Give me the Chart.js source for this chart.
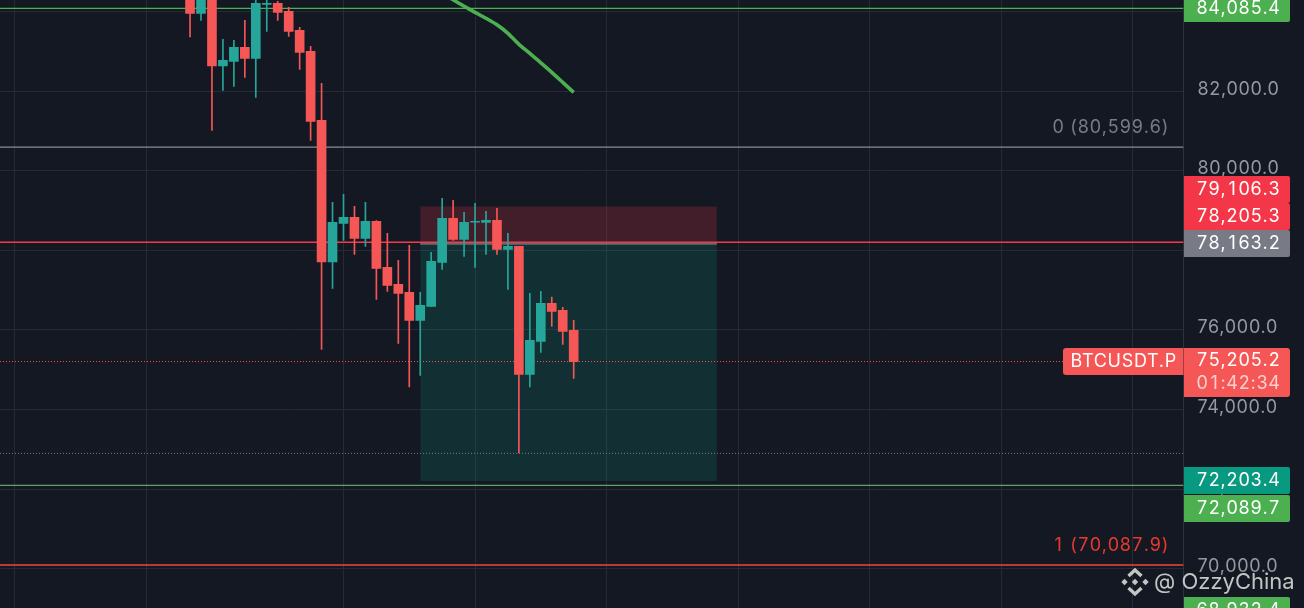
<!DOCTYPE html>
<html><head><meta charset="utf-8">
<style>html,body{margin:0;padding:0;background:#141823;overflow:hidden}canvas{display:block}</style>
<script src="https://cdn.jsdelivr.net/npm/chart.js@4"></script>
</head><body><canvas id="c" width="1304" height="608" style="width:1304px;height:608px"></canvas>
<script>
// candle values, bar index 0..35
const candleOpen  = [84600,83964,84700,82638,82756,83109,82832,84190,84215,84014,83536,83008,81273,77709,78682,78833,78305,78732,77576,77148,76947,76243,76595,77701,78808,78280,78710,78707,78758,78028,78104,74884,75714,76670,76494,75991];
const candleClose = [83964,84600,82638,82782,83109,82832,84215,84215,83989,83511,82983,81247,77709,78707,78833,78305,78732,77550,77123,76922,76243,76620,77726,78808,78280,78707,78735,78758,78028,78104,74884,75740,76670,76469,75966,75205.2];
const candleHigh  = [84800,84800,84900,83310,83285,83788,84341,84366,84265,84115,83612,83134,82203,79210,79411,79110,79210,78750,78431,77752,78129,76947,77953,79311,79261,78959,79185,78984,79059,78431,78104,76922,76972,76829,76570,76243];
const candleLow   = [83368,83788,81021,82027,82128,82354,81851,83511,83788,83385,82555,80770,75513,77047,78255,77902,78104,76771,76972,75664,74565,74859,76595,77525,78255,77852,77576,77902,77902,77022,72905,74565,75438,76092,75639,74784];
// moving average, bars 24..35
const maBars   = [23,24,25,26,27,28,29,30,31,32,33,34,35];
const maValues = [84467,84303,84140,83989,83838,83674,83460,83184,82958,82719,82480,82228,81977];
// price levels
const levelTop = 84085.4, levelFibZero = 80599.6, levelEntry = 78205.3, levelAvg = 78163.2;
const levelLast = 75205.2, levelLow = 72897, levelTarget = 72203.4, levelGreen = 72089.7, levelFibOne = 70087.9, levelStop = 79106.3;
const priceTicks = [70000,72000,74000,76000,78000,80000,82000,84000];
const gridBars = [-16,-4,14,26,38,50,62,74,86];
const boxBars = [21,48.06];
const tagTexts = ['84,085.4','79,106.3','78,205.3','78,163.2','72,203.4','72,089.7','68,932.4'];
const tagLastTexts = ['75,205.2','01:42:34','BTCUSDT.P'];
const fibTexts = ['0 (80,599.6)','1 (70,087.9)'];
const watermarkText = '@ OzzyChina';

const RED='#F55656', TEAL='#26A69A', FONT='Inter, "Liberation Sans", sans-serif';
const xMin=-17.336, xMax=90.63, yMin=69007.5, yMax=84298.5;
const idx=candleOpen.map((_,i)=>i);
const colors=idx.map(i=>candleClose[i]>=candleOpen[i]?TEAL:RED);
const hline=(v,color,order,extra)=>Object.assign({type:'line',data:[{x:xMin,y:v},{x:xMax,y:v}],borderColor:color,borderWidth:1.2,pointRadius:0,fill:false,order},extra||{});
const box=(top,bottom,color)=>({type:'line',data:boxBars.map(x=>({x,y:top})),borderWidth:0,borderColor:'transparent',pointRadius:0,fill:{value:bottom},backgroundColor:color,order:20});

const overlay={id:'overlay',
 beforeDraw(ch){const c=ch.ctx;c.save();c.fillStyle='#141823';c.fillRect(0,0,ch.width,ch.height);c.restore();c.letterSpacing='0.7px';},
 afterDraw(ch){const c=ch.ctx;c.save();
  const rr=(x,y,w,h,col,r)=>{c.fillStyle=col;c.beginPath();c.roundRect(x,y,w,h,r);c.fill();};
  // right-aligned text with equal-width digits
  const cells=(s,xr,y)=>{c.textAlign='left';const cell=c.measureText('0').width;
    const ws=[...s].map(ch=>/\d/.test(ch)?cell:c.measureText(ch).width);
    let x=xr-ws.reduce((a,b)=>a+b,0);
    [...s].forEach((ch,i)=>{const w=c.measureText(ch).width;c.fillText(ch,x+(ws[i]-w)/2,y);x+=ws[i];});};
  c.textBaseline='middle';c.font='18px '+FONT;
  // fib labels
  c.fillStyle='#787B86';cells(fibTexts[0],1169,127.5);
  c.fillStyle='#E8392F';cells(fibTexts[1],1169,545.5);
  // price tags
  const tx=1280.5;
  const tags=[[-5,tagTexts[0],'#4CAF50'],[176,tagTexts[1],'#F43748'],[203,tagTexts[2],'#F43748'],[230,tagTexts[3],'#787B86'],[467,tagTexts[4],'#089981'],[495,tagTexts[5],'#4CAF50'],[597,tagTexts[6],'#4CAF50']];
  tags.forEach(([t,s,col])=>{rr(1184,t,106,27,col,[0,2,2,0]);c.fillStyle='#fff';cells(s,tx,t+13.5);});
  rr(1184,348,106,49,RED,[0,3,3,0]);
  rr(1063,348,120.5,27,RED,[3,0,0,3]);
  c.fillStyle='#fff';cells(tagLastTexts[0],tx,361);
  c.fillStyle='rgba(255,255,255,0.72)';cells(tagLastTexts[1],tx,384);
  c.fillStyle='#fff';c.textAlign='left';c.fillText(tagLastTexts[2],1070.5,361.5);
  // watermark
  const wc='rgba(218,222,218,0.88)';
  c.letterSpacing='0px';
  c.fillStyle=wc;c.font='22px '+FONT;c.textAlign='left';c.fillText(watermarkText,1154,582.5);
  const d=(x,y,s)=>{c.beginPath();c.moveTo(x,y-s);c.lineTo(x+s,y);c.lineTo(x,y+s);c.lineTo(x-s,y);c.closePath();c.fill();};
  const cx=1135,cy=582;
  d(cx,cy,3.2);d(cx-10.5,cy,3.2);d(cx+10.5,cy,3.2);
  c.strokeStyle=wc;c.lineWidth=3.4;c.lineJoin='miter';
  c.beginPath();c.moveTo(cx-6.5,cy-6);c.lineTo(cx,cy-12);c.lineTo(cx+6.5,cy-6);c.stroke();
  c.beginPath();c.moveTo(cx-6.5,cy+6);c.lineTo(cx,cy+12);c.lineTo(cx+6.5,cy+6);c.stroke();
  c.restore();
 }};

new Chart(document.getElementById('c'),{
 type:'bar',
 data:{datasets:[
  {label:'body',data:idx.map(i=>({x:i,y:[candleOpen[i],candleClose[i]]})),backgroundColor:colors,barThickness:9,grouped:false,minBarLength:1,order:1},
  {label:'wick',data:idx.map(i=>({x:i,y:[candleLow[i],candleHigh[i]]})),backgroundColor:colors,barThickness:1,grouped:false,order:2},
  {type:'line',label:'ma',data:maBars.map((b,i)=>({x:b,y:maValues[i]})),borderColor:'#4CAF50',borderWidth:3.6,pointRadius:0,tension:0.2,fill:false,order:0},
  hline(levelTop,'#4CAF50',5),
  hline(levelFibZero,'#8A8C96',5),
  hline(levelEntry,'#F7384A',5,{borderWidth:1.6}),
  hline(levelGreen,'#5FA364',5),
  hline(levelFibOne,'#F44336',5,{borderWidth:1.5}),
  hline(levelLow,'#787B86',6,{borderDash:[1,2],borderWidth:1}),
  {type:'line',data:[{x:xMin,y:levelLast},{x:(1063-190)/10.96,y:levelLast}],borderColor:RED,borderWidth:1,borderDash:[1,2],pointRadius:0,fill:false,order:6},
  {type:'line',data:boxBars.map(x=>({x,y:levelAvg})),borderColor:'#9A9BA3',borderWidth:1,pointRadius:0,fill:false,order:6},
  box(levelStop,levelEntry,'rgba(242,54,69,0.21)'),
  box(levelEntry,levelTarget,'rgba(8,153,129,0.19)')
 ]},
 options:{responsive:false,animation:false,devicePixelRatio:1,
  layout:{padding:0},
  plugins:{legend:{display:false},tooltip:{enabled:false}},
  scales:{
   x:{type:'linear',min:xMin,max:xMax,offset:false,border:{display:false},
      grid:{color:'#262A34',lineWidth:1,offset:false,drawTicks:false},
      ticks:{display:false},
      afterBuildTicks(s){s.ticks=gridBars.map(v=>({value:v}));},
      afterFit(s){s.height=0;}},
   y:{type:'linear',position:'right',min:yMin,max:yMax,
      border:{display:true,color:'#2E323D'},
      grid:{color:'#262A34',lineWidth:1,drawTicks:false},
      afterBuildTicks(s){s.ticks=priceTicks.map(v=>({value:v}));},
      afterFit(s){s.width=120.5;s.paddingTop=0;s.paddingBottom=0;},
      ticks:{color:'#9598A1',font:{family:FONT,size:18},padding:14,labelOffset:-2,autoSkip:false,
        callback:v=>v.toLocaleString('en-US',{minimumFractionDigits:1})}}
  }},
 plugins:[overlay]
});
</script></body></html>
